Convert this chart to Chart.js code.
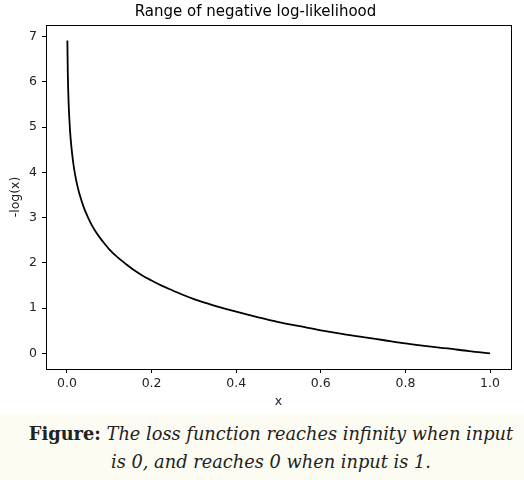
<!DOCTYPE html>
<html>
<head>
<meta charset="utf-8">
<script src="https://cdn.jsdelivr.net/npm/chart.js@4"></script>
<style>
  html, body { margin: 0; padding: 0; background: #ffffff; }
  #wrap { width: 524px; height: 414px; position: relative; }
  #caption {
    width: 524px; height: 66px; background: #fdfcf3;
    font-family: "DejaVu Serif", "Liberation Serif", serif;
    font-size: 17.8px; color: #222; text-align: center;
    line-height: 28px; padding-top: 6px; padding-left: 18px; box-sizing: border-box;
    white-space: nowrap;
  }
  #caption b { font-weight: bold; font-style: normal; }
  #caption i { font-style: italic; }
</style>
</head>
<body>
<div id="wrap"><canvas id="c" width="524" height="414"></canvas></div>
<div id="caption"><b>Figure:</b> <i>The loss function reaches infinity when input<br>is 0, and reaches 0 when input is 1.</i></div>
<script>
// values
const xValues = [0.001, 0.002, 0.003, 0.004, 0.005, 0.007, 0.01, 0.015, 0.02, 0.025, 0.03, 0.04, 0.05, 0.06, 0.07, 0.08, 0.09, 0.1, 0.12, 0.14, 0.16, 0.18, 0.2, 0.225, 0.25, 0.275, 0.3, 0.325, 0.35, 0.4, 0.45, 0.5, 0.55, 0.6, 0.65, 0.7, 0.75, 0.8, 0.85, 0.9, 0.95, 1.0];
const yValues = [6.91, 6.21, 5.81, 5.52, 5.30, 4.96, 4.61, 4.20, 3.91, 3.69, 3.51, 3.22, 3.00, 2.81, 2.66, 2.53, 2.41, 2.30, 2.12, 1.97, 1.83, 1.71, 1.61, 1.49, 1.39, 1.29, 1.20, 1.12, 1.05, 0.92, 0.80, 0.69, 0.60, 0.51, 0.43, 0.36, 0.29, 0.22, 0.16, 0.11, 0.05, 0.00];
const xTicks = [0.0, 0.2, 0.4, 0.6, 0.8, 1.0];
const yTicks = [0, 1, 2, 3, 4, 5, 6, 7];
const titleText = "Range of negative log-likelihood";
const xLabel = "x";
const yLabel = "-log(x)";

const points = xValues.map((x, i) => ({ x: x, y: yValues[i] }));

const framePlugin = {
  id: 'frame',
  afterDraw(chart) {
    const a = chart.chartArea, ctx = chart.ctx;
    ctx.save();
    ctx.strokeStyle = '#000';
    ctx.lineWidth = 1;
    ctx.strokeRect(Math.round(a.left) + 0.5, Math.round(a.top) + 0.5,
                   Math.round(a.right - a.left), Math.round(a.bottom - a.top));
    ctx.restore();
  }
};

const tickFont = { family: "DejaVu Sans", size: 12.5 };

new Chart(document.getElementById('c'), {
  type: 'line',
  data: {
    datasets: [{
      data: points,
      borderColor: '#000',
      borderWidth: 1.8,
      pointRadius: 0,
      fill: false,
      cubicInterpolationMode: 'monotone'
    }]
  },
  options: {
    responsive: false,
    animation: false,
    layout: { padding: { left: 0, right: 13, top: 0, bottom: 0 } },
    plugins: {
      legend: { display: false },
      tooltip: { enabled: false },
      title: {
        display: true, text: titleText, color: '#000',
        font: { family: "DejaVu Sans", size: 15, weight: 'normal' },
        padding: { top: 3, bottom: 4 }
      }
    },
    scales: {
      x: {
        type: 'linear', min: -0.0495, max: 1.0495,
        afterFit(s) { s.height = 45; },
        afterBuildTicks(s) { s.ticks = xTicks.map(v => ({ value: v })); },
        ticks: { color: '#222', font: tickFont, padding: 3, maxRotation: 0,
                 callback: v => v.toFixed(1) },
        grid: { display: true, drawOnChartArea: false, drawTicks: true, tickLength: 4, tickColor: '#000' },
        border: { display: true, color: '#000' },
        title: { display: true, text: xLabel, color: '#222', font: tickFont, padding: { top: 0, bottom: 5 } }
      },
      y: {
        type: 'linear', min: -0.345, max: 7.254,
        afterFit(s) { s.width = 46; },
        afterBuildTicks(s) { s.ticks = yTicks.map(v => ({ value: v })); },
        ticks: { color: '#222', font: tickFont, padding: 5, callback: v => String(v) },
        grid: { display: true, drawOnChartArea: false, drawTicks: true, tickLength: 4, tickColor: '#000' },
        border: { display: true, color: '#000' },
        title: { display: true, text: yLabel, color: '#222', font: tickFont, padding: { top: 8, bottom: 0 } }
      }
    }
  },
  plugins: [framePlugin]
});
</script>
</body>
</html>
